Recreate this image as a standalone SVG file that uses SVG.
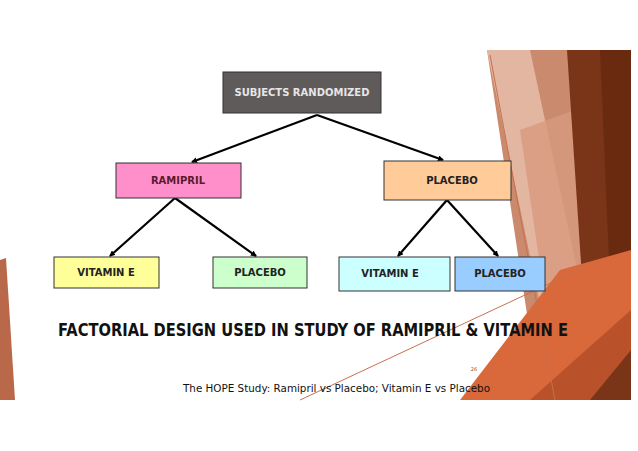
<svg xmlns="http://www.w3.org/2000/svg" width="638" height="451" viewBox="0 0 638 451">
<style>
.n{stroke:#333;stroke-width:1}
.t{font-family:"DejaVu Sans",sans-serif;font-size:10px;font-weight:bold;text-anchor:middle;fill:#222}
.c line{stroke:#000;stroke-width:2.2}
</style>
<defs><marker id="a" markerWidth="6" markerHeight="6" refX="5" refY="3" orient="auto" markerUnits="userSpaceOnUse"><path d="M0,0L6,3L0,6z" fill="#000"/></marker></defs>
<rect width="638" height="451" fill="#fff"/>
<g id="deco">
<polygon points="487,50 631,50 631,400 540,400" fill="#c98a6e"/>
<polygon points="487,50 530,50 590,330 560,400" fill="#e8c0ad" opacity="0.8"/>
<polygon points="520,130 575,110 600,400 560,400" fill="#d89a7e" opacity="0.8"/>
<polygon points="567,50 631,50 631,400 590,400" fill="#7a3518"/>
<polygon points="600,50 631,50 631,400 615,400" fill="#6a2a10"/>
<polygon points="460,400 631,400 631,250 560,270" fill="#d9683a"/>
<polygon points="530,400 631,400 631,310" fill="#b9512a"/>
<polygon points="590,400 631,400 631,350" fill="#7a3518"/>
<line x1="490" y1="55" x2="555" y2="400" stroke="#c7704c" stroke-width="1"/>
<line x1="300" y1="400" x2="600" y2="260" stroke="#c7704c" stroke-width="1"/>
<polygon points="0,400 0,260 6,258 15,400" fill="#b9684a"/>
</g>
<g class="c">
<line x1="317" y1="115" x2="192" y2="162" marker-end="url(#a)"/>
<line x1="317" y1="115" x2="443" y2="160" marker-end="url(#a)"/>
<line x1="175" y1="198" x2="110" y2="256" marker-end="url(#a)"/>
<line x1="175" y1="198" x2="256" y2="256" marker-end="url(#a)"/>
<line x1="447" y1="200" x2="398" y2="256" marker-end="url(#a)"/>
<line x1="447" y1="200" x2="498" y2="256" marker-end="url(#a)"/>
</g>
<g id="subjects"><rect class="n" x="223" y="72" width="158" height="41" fill="#5f5b5b"/><text class="t" x="302" y="96" style="fill:#e6e6e6">SUBJECTS  RANDOMIZED</text></g>
<g id="ramipril"><rect class="n" x="116" y="163" width="125" height="35" fill="#ff8fcb"/><text class="t" x="178" y="184" style="fill:#5a1a2a">RAMIPRIL</text></g>
<g id="placebo1"><rect class="n" x="384" y="161" width="127" height="39" fill="#ffcc99"/><text class="t" x="452" y="184">PLACEBO</text></g>
<g id="vitE1"><rect class="n" x="54" y="257" width="105" height="31" fill="#ffff99"/><text class="t" x="106" y="276">VITAMIN  E</text></g>
<g id="placebo2"><rect class="n" x="213" y="257" width="94" height="31" fill="#ccffcc"/><text class="t" x="260" y="276">PLACEBO</text></g>
<g id="vitE2"><rect class="n" x="339" y="257" width="111" height="34" fill="#ccffff"/><text class="t" x="390" y="277">VITAMIN  E</text></g>
<g id="placebo3"><rect class="n" x="455" y="257" width="90" height="34" fill="#99ccff"/><text class="t" x="500" y="277">PLACEBO</text></g>
<text x="58" y="336" font-family="DejaVu Sans,sans-serif" font-size="17.5" font-weight="bold" fill="#111" textLength="510" lengthAdjust="spacingAndGlyphs">FACTORIAL DESIGN USED IN STUDY OF RAMIPRIL &amp; VITAMIN E</text>
<text x="474" y="371" font-family="DejaVu Sans,sans-serif" font-size="5" text-anchor="middle" fill="#a05030">26</text>
<text x="183" y="392" font-family="DejaVu Sans,sans-serif" font-size="11" fill="#111" textLength="307" lengthAdjust="spacingAndGlyphs">The HOPE Study:  Ramipril  vs Placebo;  Vitamin  E vs Placebo</text>
</svg>
